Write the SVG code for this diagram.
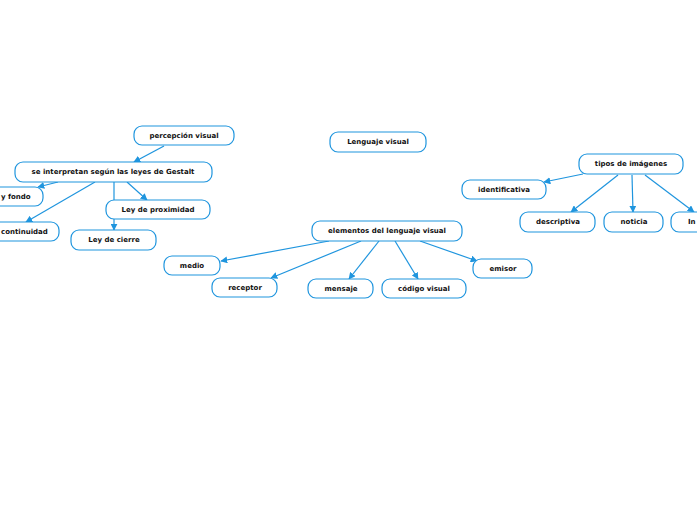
<svg xmlns="http://www.w3.org/2000/svg" width="697" height="520" viewBox="0 0 697 520">
<defs>
<marker id="ah" viewBox="0 0 10 10" refX="9" refY="5" markerWidth="7" markerHeight="7" markerUnits="userSpaceOnUse" orient="auto">
<path d="M0,0 L10,5 L0,10 z" fill="#1f95de"/>
</marker>
</defs>
<style>
.n rect{fill:#fff;stroke:#1f95de;stroke-width:1.2}
.n text{font-family:"DejaVu Sans",Verdana,sans-serif;font-weight:bold;font-size:7px;fill:#111;text-anchor:middle;dominant-baseline:central}
#edges line{stroke:#1f95de;stroke-width:1.2;marker-end:url(#ah)}
</style>
<rect width="697" height="520" fill="#fff"/>
<g id="edges">
<line x1="164" y1="146" x2="134" y2="162"/>
<line x1="58" y1="182" x2="38" y2="187"/>
<line x1="95" y1="182" x2="26" y2="222"/>
<line x1="127" y1="182" x2="147" y2="200"/>
<line x1="114" y1="182" x2="114" y2="230"/>
<line x1="329" y1="241" x2="221" y2="261"/>
<line x1="361" y1="241" x2="271" y2="278"/>
<line x1="379" y1="241" x2="349" y2="279"/>
<line x1="395" y1="241" x2="418" y2="279"/>
<line x1="420" y1="241" x2="477" y2="261"/>
<line x1="583" y1="174" x2="544" y2="182"/>
<line x1="618" y1="175" x2="571" y2="212"/>
<line x1="632" y1="175" x2="633" y2="212"/>
<line x1="645" y1="175" x2="694" y2="212"/>
</g>
<g id="percepcion" class="n"><rect x="134" y="126" width="100" height="19" rx="8"/><text x="184" y="136">percepción visual</text></g>
<g id="gestalt" class="n"><rect x="15" y="162" width="197" height="20" rx="8"/><text x="113" y="172">se interpretan según las leyes de Gestalt</text></g>
<g id="fondo" class="n"><rect x="-30" y="187" width="73" height="19" rx="8"/><text x="1" y="197" style="text-anchor:start">y fondo</text></g>
<g id="continuidad" class="n"><rect x="-40" y="222" width="99" height="19" rx="8"/><text x="1" y="232" style="text-anchor:start">continuidad</text></g>
<g id="proximidad" class="n"><rect x="106" y="200" width="104" height="19" rx="8"/><text x="158" y="210">Ley de proximidad</text></g>
<g id="cierre" class="n"><rect x="71" y="230" width="85" height="20" rx="8"/><text x="114" y="240">Ley de cierre</text></g>
<g id="lenguaje" class="n"><rect x="330" y="132" width="96" height="20" rx="8"/><text x="378" y="142">Lenguaje visual</text></g>
<g id="elementos" class="n"><rect x="312" y="221" width="150" height="20" rx="8"/><text x="387" y="231">elementos del lenguaje visual</text></g>
<g id="medio" class="n"><rect x="164" y="256" width="56" height="19" rx="8"/><text x="192" y="266">medio</text></g>
<g id="receptor" class="n"><rect x="212" y="278" width="65" height="19" rx="8"/><text x="245" y="288">receptor</text></g>
<g id="mensaje" class="n"><rect x="308" y="279" width="65" height="19" rx="8"/><text x="341" y="289">mensaje</text></g>
<g id="codigo" class="n"><rect x="382" y="279" width="84" height="19" rx="8"/><text x="424" y="289">código visual</text></g>
<g id="emisor" class="n"><rect x="473" y="259" width="59" height="19" rx="8"/><text x="503" y="269">emisor</text></g>
<g id="tipos" class="n"><rect x="579" y="154" width="104" height="20" rx="8"/><text x="631" y="164">tipos de imágenes</text></g>
<g id="identificativa" class="n"><rect x="462" y="180" width="84" height="19" rx="8"/><text x="504" y="190">identificativa</text></g>
<g id="descriptiva" class="n"><rect x="520" y="212" width="75" height="20" rx="8"/><text x="558" y="222">descriptiva</text></g>
<g id="noticia" class="n"><rect x="604" y="212" width="59" height="20" rx="8"/><text x="634" y="222">noticia</text></g>
<g id="informativa" class="n"><rect x="671" y="212" width="60" height="20" rx="8"/><text x="688" y="222" style="text-anchor:start">In</text></g>
</svg>
